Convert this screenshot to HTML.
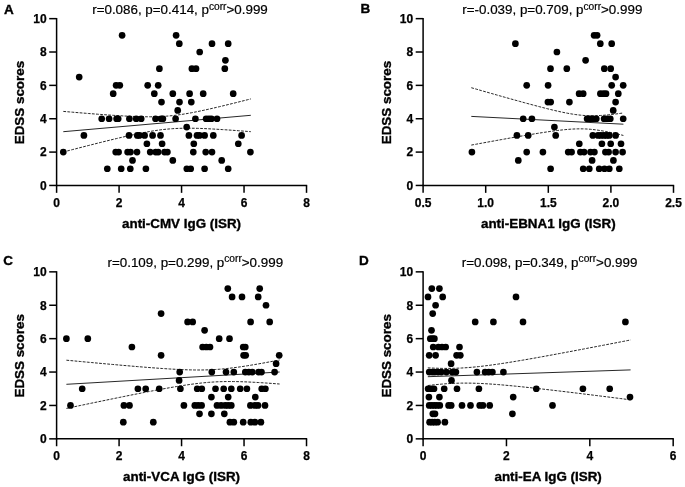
<!DOCTYPE html>
<html><head><meta charset="utf-8"><title>EDSS correlations</title>
<style>
html,body{margin:0;padding:0;background:#fff;}
svg{display:block;font-family:"Liberation Sans",Arial,Helvetica,sans-serif;}
.ax{stroke:#000;stroke-width:1.5;fill:none;}
.rg{stroke:#000;stroke-width:0.85;fill:none;}
.ci{stroke:#000;stroke-width:0.85;fill:none;stroke-dasharray:2.8 1.3;}
.tk{font-size:12px;font-weight:bold;fill:#000;stroke:#000;stroke-width:.25px;}
.al{font-size:13.4px;font-weight:bold;fill:#000;stroke:#000;stroke-width:.35px;}
.lt{font-size:13.5px;font-weight:bold;fill:#000;stroke:#000;stroke-width:.35px;}
.tt{font-size:13.38px;fill:#000;stroke:#000;stroke-width:.2px;}
.sp{font-size:10.2px;}
circle{fill:#000;}
</style></head><body>
<svg width="685" height="487" viewBox="0 0 685 487">
<rect width="685" height="487" fill="#fff"/>
<path d="M56.60 18.00V186.10" class="ax"/>
<path d="M55.95 185.45H307.17" class="ax"/>
<path d="M49.20 185.45H56.60" class="ax"/>
<text x="46.60" y="189.85" class="tk" text-anchor="end">0</text>
<path d="M49.20 152.09H56.60" class="ax"/>
<text x="46.60" y="156.49" class="tk" text-anchor="end">2</text>
<path d="M49.20 118.73H56.60" class="ax"/>
<text x="46.60" y="123.13" class="tk" text-anchor="end">4</text>
<path d="M49.20 85.37H56.60" class="ax"/>
<text x="46.60" y="89.77" class="tk" text-anchor="end">6</text>
<path d="M49.20 52.01H56.60" class="ax"/>
<text x="46.60" y="56.41" class="tk" text-anchor="end">8</text>
<path d="M49.20 18.65H56.60" class="ax"/>
<text x="46.60" y="23.05" class="tk" text-anchor="end">10</text>
<path d="M56.60 185.45V192.85" class="ax"/>
<text x="56.60" y="206.75" class="tk" text-anchor="middle">0</text>
<path d="M119.08 185.45V192.85" class="ax"/>
<text x="119.08" y="206.75" class="tk" text-anchor="middle">2</text>
<path d="M181.56 185.45V192.85" class="ax"/>
<text x="181.56" y="206.75" class="tk" text-anchor="middle">4</text>
<path d="M244.04 185.45V192.85" class="ax"/>
<text x="244.04" y="206.75" class="tk" text-anchor="middle">6</text>
<path d="M306.52 185.45V192.85" class="ax"/>
<text x="306.52" y="206.75" class="tk" text-anchor="middle">8</text>
<text x="4.1" y="14.1" class="lt">A</text>
<text x="92.2" y="14.35" class="tt">r=0.086, p=0.414, p<tspan dy="-4.4" class="sp">corr</tspan><tspan dy="4.4">&gt;0.999</tspan></text>
<text x="181.56" y="227.55" class="al" text-anchor="middle">anti-CMV IgG (ISR)</text>
<text transform="translate(24.40 102.55) rotate(-90)" class="al" text-anchor="middle">EDSS scores</text>
<path d="M63.30 131.70L250.80 115.30" class="rg"/>
<path d="M63.30 111.40L66.42 111.67L69.55 111.93L72.67 112.20L75.80 112.46L78.92 112.72L82.05 112.97L85.17 113.23L88.30 113.48L91.42 113.72L94.55 113.97L97.67 114.21L100.80 114.44L103.92 114.67L107.05 114.90L110.17 115.11L113.30 115.32L116.42 115.53L119.55 115.72L122.67 115.90L125.80 116.08L128.93 116.23L132.05 116.38L135.18 116.50L138.30 116.61L141.43 116.70L144.55 116.76L147.68 116.79L150.80 116.79L153.93 116.75L157.05 116.67L160.18 116.55L163.30 116.38L166.43 116.17L169.55 115.90L172.68 115.59L175.80 115.22L178.93 114.81L182.05 114.36L185.18 113.86L188.30 113.33L191.43 112.76L194.55 112.16L197.68 111.54L200.80 110.89L203.93 110.22L207.05 109.54L210.18 108.84L213.30 108.12L216.43 107.40L219.55 106.66L222.68 105.91L225.80 105.16L228.93 104.40L232.05 103.63L235.18 102.85L238.30 102.07L241.43 101.29L244.55 100.50L247.68 99.71L250.80 98.91" class="ci"/>
<path d="M63.30 152.00L66.42 151.19L69.55 150.37L72.67 149.56L75.80 148.76L78.92 147.95L82.05 147.15L85.17 146.35L88.30 145.55L91.42 144.76L94.55 143.97L97.67 143.18L100.80 142.40L103.92 141.62L107.05 140.85L110.17 140.09L113.30 139.33L116.42 138.58L119.55 137.84L122.67 137.11L125.80 136.39L128.93 135.69L132.05 135.00L135.18 134.32L138.30 133.67L141.43 133.04L144.55 132.43L147.68 131.85L150.80 131.31L153.93 130.80L157.05 130.33L160.18 129.90L163.30 129.52L166.43 129.19L169.55 128.91L172.68 128.68L175.80 128.50L178.93 128.36L182.05 128.27L185.18 128.22L188.30 128.21L191.43 128.23L194.55 128.28L197.68 128.35L200.80 128.45L203.93 128.58L207.05 128.71L210.18 128.87L213.30 129.04L216.43 129.22L219.55 129.41L222.68 129.61L225.80 129.81L228.93 130.03L232.05 130.25L235.18 130.48L238.30 130.71L241.43 130.95L244.55 131.19L247.68 131.44L250.80 131.69" class="ci"/>
<circle cx="122.1" cy="35.33" r="3.35"/>
<circle cx="176.1" cy="35.33" r="3.35"/>
<circle cx="179.3" cy="43.67" r="3.35"/>
<circle cx="212.0" cy="43.67" r="3.35"/>
<circle cx="228.2" cy="43.67" r="3.35"/>
<circle cx="199.7" cy="52.01" r="3.35"/>
<circle cx="225.4" cy="60.35" r="3.35"/>
<circle cx="159.4" cy="68.69" r="3.35"/>
<circle cx="191.9" cy="68.69" r="3.35"/>
<circle cx="196.0" cy="68.69" r="3.35"/>
<circle cx="224.8" cy="68.69" r="3.35"/>
<circle cx="79.2" cy="77.03" r="3.35"/>
<circle cx="116.1" cy="85.37" r="3.35"/>
<circle cx="119.8" cy="85.37" r="3.35"/>
<circle cx="147.7" cy="85.37" r="3.35"/>
<circle cx="158.2" cy="85.37" r="3.35"/>
<circle cx="113.2" cy="93.71" r="3.35"/>
<circle cx="154.3" cy="93.71" r="3.35"/>
<circle cx="172.8" cy="93.71" r="3.35"/>
<circle cx="189.6" cy="93.71" r="3.35"/>
<circle cx="203.2" cy="93.71" r="3.35"/>
<circle cx="233.2" cy="93.71" r="3.35"/>
<circle cx="161.5" cy="102.05" r="3.35"/>
<circle cx="179.5" cy="102.05" r="3.35"/>
<circle cx="191.3" cy="102.05" r="3.35"/>
<circle cx="177.7" cy="110.39" r="3.35"/>
<circle cx="101.7" cy="118.73" r="3.35"/>
<circle cx="109.1" cy="118.73" r="3.35"/>
<circle cx="116.6" cy="118.73" r="3.35"/>
<circle cx="118.2" cy="118.73" r="3.35"/>
<circle cx="129.4" cy="118.73" r="3.35"/>
<circle cx="136.2" cy="118.73" r="3.35"/>
<circle cx="141.2" cy="118.73" r="3.35"/>
<circle cx="155.5" cy="118.73" r="3.35"/>
<circle cx="161.1" cy="118.73" r="3.35"/>
<circle cx="162.9" cy="118.73" r="3.35"/>
<circle cx="175.6" cy="118.73" r="3.35"/>
<circle cx="195.4" cy="118.73" r="3.35"/>
<circle cx="206.1" cy="118.73" r="3.35"/>
<circle cx="208.9" cy="118.73" r="3.35"/>
<circle cx="211.4" cy="118.73" r="3.35"/>
<circle cx="217.0" cy="118.73" r="3.35"/>
<circle cx="186.7" cy="127.07" r="3.35"/>
<circle cx="83.9" cy="135.41" r="3.35"/>
<circle cx="129.0" cy="135.41" r="3.35"/>
<circle cx="137.3" cy="135.41" r="3.35"/>
<circle cx="139.3" cy="135.41" r="3.35"/>
<circle cx="144.6" cy="135.41" r="3.35"/>
<circle cx="152.6" cy="135.41" r="3.35"/>
<circle cx="160.5" cy="135.41" r="3.35"/>
<circle cx="188.9" cy="135.41" r="3.35"/>
<circle cx="197.0" cy="135.41" r="3.35"/>
<circle cx="199.5" cy="135.41" r="3.35"/>
<circle cx="204.6" cy="135.41" r="3.35"/>
<circle cx="213.3" cy="135.41" r="3.35"/>
<circle cx="241.6" cy="135.41" r="3.35"/>
<circle cx="146.9" cy="143.75" r="3.35"/>
<circle cx="162.1" cy="143.75" r="3.35"/>
<circle cx="193.8" cy="143.75" r="3.35"/>
<circle cx="238.3" cy="143.75" r="3.35"/>
<circle cx="63.3" cy="152.09" r="3.35"/>
<circle cx="115.7" cy="152.09" r="3.35"/>
<circle cx="118.6" cy="152.09" r="3.35"/>
<circle cx="127.6" cy="152.09" r="3.35"/>
<circle cx="130.5" cy="152.09" r="3.35"/>
<circle cx="137.0" cy="152.09" r="3.35"/>
<circle cx="150.2" cy="152.09" r="3.35"/>
<circle cx="155.7" cy="152.09" r="3.35"/>
<circle cx="158.2" cy="152.09" r="3.35"/>
<circle cx="164.6" cy="152.09" r="3.35"/>
<circle cx="167.4" cy="152.09" r="3.35"/>
<circle cx="193.3" cy="152.09" r="3.35"/>
<circle cx="205.7" cy="152.09" r="3.35"/>
<circle cx="212.0" cy="152.09" r="3.35"/>
<circle cx="250.4" cy="152.09" r="3.35"/>
<circle cx="132.5" cy="160.43" r="3.35"/>
<circle cx="172.8" cy="160.43" r="3.35"/>
<circle cx="221.7" cy="160.43" r="3.35"/>
<circle cx="107.3" cy="168.77" r="3.35"/>
<circle cx="121.2" cy="168.77" r="3.35"/>
<circle cx="130.3" cy="168.77" r="3.35"/>
<circle cx="145.9" cy="168.77" r="3.35"/>
<circle cx="186.8" cy="168.77" r="3.35"/>
<circle cx="190.7" cy="168.77" r="3.35"/>
<circle cx="204.6" cy="168.77" r="3.35"/>
<circle cx="228.2" cy="168.77" r="3.35"/>
<path d="M423.10 18.00V186.10" class="ax"/>
<path d="M422.45 185.45H674.15" class="ax"/>
<path d="M415.70 185.45H423.10" class="ax"/>
<text x="413.10" y="189.85" class="tk" text-anchor="end">0</text>
<path d="M415.70 152.09H423.10" class="ax"/>
<text x="413.10" y="156.49" class="tk" text-anchor="end">2</text>
<path d="M415.70 118.73H423.10" class="ax"/>
<text x="413.10" y="123.13" class="tk" text-anchor="end">4</text>
<path d="M415.70 85.37H423.10" class="ax"/>
<text x="413.10" y="89.77" class="tk" text-anchor="end">6</text>
<path d="M415.70 52.01H423.10" class="ax"/>
<text x="413.10" y="56.41" class="tk" text-anchor="end">8</text>
<path d="M415.70 18.65H423.10" class="ax"/>
<text x="413.10" y="23.05" class="tk" text-anchor="end">10</text>
<path d="M423.10 185.45V192.85" class="ax"/>
<text x="423.10" y="206.75" class="tk" text-anchor="middle">0.5</text>
<path d="M485.70 185.45V192.85" class="ax"/>
<text x="485.70" y="206.75" class="tk" text-anchor="middle">1.0</text>
<path d="M548.30 185.45V192.85" class="ax"/>
<text x="548.30" y="206.75" class="tk" text-anchor="middle">1.5</text>
<path d="M610.90 185.45V192.85" class="ax"/>
<text x="610.90" y="206.75" class="tk" text-anchor="middle">2.0</text>
<path d="M673.50 185.45V192.85" class="ax"/>
<text x="673.50" y="206.75" class="tk" text-anchor="middle">2.5</text>
<text x="360.4" y="12.8" class="lt">B</text>
<text x="462.3" y="14.35" class="tt">r=-0.039, p=0.709, p<tspan dy="-4.4" class="sp">corr</tspan><tspan dy="4.4">&gt;0.999</tspan></text>
<text x="548.30" y="227.55" class="al" text-anchor="middle">anti-EBNA1 IgG (ISR)</text>
<text transform="translate(391.20 102.55) rotate(-90)" class="al" text-anchor="middle">EDSS scores</text>
<path d="M471.30 116.40L623.40 124.20" class="rg"/>
<path d="M471.30 87.71L473.84 88.44L476.37 89.16L478.91 89.89L481.44 90.62L483.98 91.34L486.51 92.07L489.05 92.79L491.58 93.51L494.12 94.23L496.65 94.95L499.19 95.67L501.72 96.38L504.25 97.10L506.79 97.81L509.32 98.52L511.86 99.23L514.39 99.93L516.93 100.64L519.47 101.34L522.00 102.03L524.53 102.73L527.07 103.42L529.61 104.10L532.14 104.78L534.67 105.46L537.21 106.13L539.75 106.79L542.28 107.45L544.81 108.09L547.35 108.73L549.88 109.36L552.42 109.97L554.96 110.57L557.49 111.15L560.02 111.72L562.56 112.26L565.10 112.78L567.63 113.26L570.16 113.72L572.70 114.14L575.24 114.52L577.77 114.85L580.30 115.14L582.84 115.37L585.38 115.55L587.91 115.67L590.44 115.73L592.98 115.74L595.51 115.70L598.05 115.61L600.59 115.47L603.12 115.30L605.65 115.09L608.19 114.85L610.73 114.59L613.26 114.30L615.79 113.99L618.33 113.66L620.87 113.31L623.40 112.95" class="ci"/>
<path d="M471.30 145.09L473.84 144.62L476.37 144.16L478.91 143.69L481.44 143.22L483.98 142.76L486.51 142.29L489.05 141.83L491.58 141.37L494.12 140.91L496.65 140.45L499.19 139.99L501.72 139.54L504.25 139.08L506.79 138.63L509.32 138.18L511.86 137.73L514.39 137.29L516.93 136.84L519.47 136.40L522.00 135.97L524.53 135.53L527.07 135.10L529.61 134.68L532.14 134.26L534.67 133.84L537.21 133.43L539.75 133.03L542.28 132.63L544.81 132.25L547.35 131.87L549.88 131.50L552.42 131.15L554.96 130.81L557.49 130.49L560.02 130.18L562.56 129.90L565.10 129.64L567.63 129.42L570.16 129.22L572.70 129.06L575.24 128.94L577.77 128.87L580.30 128.84L582.84 128.87L585.38 128.95L587.91 129.09L590.44 129.29L592.98 129.54L595.51 129.84L598.05 130.19L600.59 130.59L603.12 131.02L605.65 131.49L608.19 131.99L610.73 132.51L613.26 133.06L615.79 133.63L618.33 134.22L620.87 134.83L623.40 135.45" class="ci"/>
<circle cx="594.1" cy="35.33" r="3.35"/>
<circle cx="597.1" cy="35.33" r="3.35"/>
<circle cx="515.4" cy="43.67" r="3.35"/>
<circle cx="600.3" cy="43.67" r="3.35"/>
<circle cx="611.7" cy="43.67" r="3.35"/>
<circle cx="556.9" cy="52.01" r="3.35"/>
<circle cx="585.6" cy="60.35" r="3.35"/>
<circle cx="550.5" cy="68.69" r="3.35"/>
<circle cx="566.8" cy="68.69" r="3.35"/>
<circle cx="604.3" cy="68.69" r="3.35"/>
<circle cx="610.7" cy="68.69" r="3.35"/>
<circle cx="615.6" cy="77.03" r="3.35"/>
<circle cx="526.7" cy="85.37" r="3.35"/>
<circle cx="548.1" cy="85.37" r="3.35"/>
<circle cx="611.7" cy="85.37" r="3.35"/>
<circle cx="623.2" cy="85.37" r="3.35"/>
<circle cx="579.1" cy="93.71" r="3.35"/>
<circle cx="583.2" cy="93.71" r="3.35"/>
<circle cx="600.4" cy="93.71" r="3.35"/>
<circle cx="603.5" cy="93.71" r="3.35"/>
<circle cx="606.0" cy="93.71" r="3.35"/>
<circle cx="618.3" cy="93.71" r="3.35"/>
<circle cx="547.9" cy="102.05" r="3.35"/>
<circle cx="550.7" cy="102.05" r="3.35"/>
<circle cx="569.4" cy="102.05" r="3.35"/>
<circle cx="615.6" cy="102.05" r="3.35"/>
<circle cx="613.2" cy="110.39" r="3.35"/>
<circle cx="523.2" cy="118.73" r="3.35"/>
<circle cx="531.9" cy="118.73" r="3.35"/>
<circle cx="587.1" cy="118.73" r="3.35"/>
<circle cx="590.2" cy="118.73" r="3.35"/>
<circle cx="593.2" cy="118.73" r="3.35"/>
<circle cx="596.3" cy="118.73" r="3.35"/>
<circle cx="604.1" cy="118.73" r="3.35"/>
<circle cx="607.2" cy="118.73" r="3.35"/>
<circle cx="610.3" cy="118.73" r="3.35"/>
<circle cx="623.2" cy="118.73" r="3.35"/>
<circle cx="554.4" cy="127.07" r="3.35"/>
<circle cx="516.9" cy="135.41" r="3.35"/>
<circle cx="528.2" cy="135.41" r="3.35"/>
<circle cx="555.7" cy="135.41" r="3.35"/>
<circle cx="592.8" cy="135.41" r="3.35"/>
<circle cx="598.0" cy="135.41" r="3.35"/>
<circle cx="600.8" cy="135.41" r="3.35"/>
<circle cx="603.9" cy="135.41" r="3.35"/>
<circle cx="606.6" cy="135.41" r="3.35"/>
<circle cx="609.3" cy="135.41" r="3.35"/>
<circle cx="615.6" cy="135.41" r="3.35"/>
<circle cx="579.3" cy="143.75" r="3.35"/>
<circle cx="601.9" cy="143.75" r="3.35"/>
<circle cx="610.7" cy="143.75" r="3.35"/>
<circle cx="621.0" cy="143.75" r="3.35"/>
<circle cx="471.9" cy="152.09" r="3.35"/>
<circle cx="526.7" cy="152.09" r="3.35"/>
<circle cx="542.9" cy="152.09" r="3.35"/>
<circle cx="568.2" cy="152.09" r="3.35"/>
<circle cx="571.6" cy="152.09" r="3.35"/>
<circle cx="580.4" cy="152.09" r="3.35"/>
<circle cx="584.1" cy="152.09" r="3.35"/>
<circle cx="590.5" cy="152.09" r="3.35"/>
<circle cx="594.4" cy="152.09" r="3.35"/>
<circle cx="605.4" cy="152.09" r="3.35"/>
<circle cx="608.6" cy="152.09" r="3.35"/>
<circle cx="615.6" cy="152.09" r="3.35"/>
<circle cx="622.6" cy="152.09" r="3.35"/>
<circle cx="518.3" cy="160.43" r="3.35"/>
<circle cx="592.1" cy="160.43" r="3.35"/>
<circle cx="613.4" cy="160.43" r="3.35"/>
<circle cx="550.6" cy="168.77" r="3.35"/>
<circle cx="583.2" cy="168.77" r="3.35"/>
<circle cx="589.3" cy="168.77" r="3.35"/>
<circle cx="599.2" cy="168.77" r="3.35"/>
<circle cx="604.5" cy="168.77" r="3.35"/>
<circle cx="609.3" cy="168.77" r="3.35"/>
<circle cx="619.3" cy="168.77" r="3.35"/>
<path d="M56.60 271.20V439.50" class="ax"/>
<path d="M55.95 438.85H307.17" class="ax"/>
<path d="M49.20 438.85H56.60" class="ax"/>
<text x="46.60" y="443.25" class="tk" text-anchor="end">0</text>
<path d="M49.20 405.45H56.60" class="ax"/>
<text x="46.60" y="409.85" class="tk" text-anchor="end">2</text>
<path d="M49.20 372.05H56.60" class="ax"/>
<text x="46.60" y="376.45" class="tk" text-anchor="end">4</text>
<path d="M49.20 338.65H56.60" class="ax"/>
<text x="46.60" y="343.05" class="tk" text-anchor="end">6</text>
<path d="M49.20 305.25H56.60" class="ax"/>
<text x="46.60" y="309.65" class="tk" text-anchor="end">8</text>
<path d="M49.20 271.85H56.60" class="ax"/>
<text x="46.60" y="276.25" class="tk" text-anchor="end">10</text>
<path d="M56.60 438.85V446.25" class="ax"/>
<text x="56.60" y="460.15" class="tk" text-anchor="middle">0</text>
<path d="M119.08 438.85V446.25" class="ax"/>
<text x="119.08" y="460.15" class="tk" text-anchor="middle">2</text>
<path d="M181.56 438.85V446.25" class="ax"/>
<text x="181.56" y="460.15" class="tk" text-anchor="middle">4</text>
<path d="M244.04 438.85V446.25" class="ax"/>
<text x="244.04" y="460.15" class="tk" text-anchor="middle">6</text>
<path d="M306.52 438.85V446.25" class="ax"/>
<text x="306.52" y="460.15" class="tk" text-anchor="middle">8</text>
<text x="3.2" y="265.2" class="lt">C</text>
<text x="107.5" y="266.80" class="tt">r=0.109, p=0.299, p<tspan dy="-4.4" class="sp">corr</tspan><tspan dy="4.4">&gt;0.999</tspan></text>
<text x="181.56" y="480.95" class="al" text-anchor="middle">anti-VCA IgG (ISR)</text>
<text transform="translate(24.40 355.85) rotate(-90)" class="al" text-anchor="middle">EDSS scores</text>
<path d="M66.40 384.30L279.60 372.00" class="rg"/>
<path d="M66.40 360.19L69.95 360.53L73.51 360.86L77.06 361.20L80.61 361.53L84.17 361.86L87.72 362.19L91.27 362.52L94.83 362.85L98.38 363.17L101.93 363.50L105.49 363.82L109.04 364.14L112.59 364.46L116.15 364.77L119.70 365.09L123.25 365.40L126.81 365.70L130.36 366.01L133.91 366.31L137.47 366.60L141.02 366.89L144.57 367.18L148.13 367.46L151.68 367.73L155.23 368.00L158.79 368.25L162.34 368.50L165.89 368.73L169.45 368.96L173.00 369.16L176.55 369.36L180.11 369.53L183.66 369.68L187.21 369.80L190.77 369.90L194.32 369.97L197.87 370.00L201.43 369.99L204.98 369.93L208.53 369.83L212.09 369.69L215.64 369.49L219.19 369.24L222.75 368.94L226.30 368.59L229.85 368.20L233.41 367.77L236.96 367.31L240.51 366.81L244.07 366.28L247.62 365.72L251.17 365.14L254.73 364.55L258.28 363.93L261.83 363.30L265.39 362.66L268.94 362.01L272.49 361.34L276.05 360.67L279.60 359.99" class="ci"/>
<path d="M66.40 408.41L69.95 407.66L73.51 406.92L77.06 406.17L80.61 405.43L84.17 404.69L87.72 403.95L91.27 403.21L94.83 402.47L98.38 401.74L101.93 401.00L105.49 400.27L109.04 399.54L112.59 398.81L116.15 398.09L119.70 397.36L123.25 396.64L126.81 395.93L130.36 395.21L133.91 394.50L137.47 393.80L141.02 393.10L144.57 392.40L148.13 391.71L151.68 391.03L155.23 390.35L158.79 389.69L162.34 389.03L165.89 388.39L169.45 387.75L173.00 387.14L176.55 386.53L180.11 385.95L183.66 385.39L187.21 384.86L190.77 384.35L194.32 383.87L197.87 383.43L201.43 383.03L204.98 382.68L208.53 382.37L212.09 382.10L215.64 381.89L219.19 381.73L222.75 381.62L226.30 381.56L229.85 381.54L233.41 381.56L236.96 381.61L240.51 381.70L244.07 381.82L247.62 381.97L251.17 382.14L254.73 382.32L258.28 382.53L261.83 382.75L265.39 382.98L268.94 383.22L272.49 383.48L276.05 383.74L279.60 384.01" class="ci"/>
<circle cx="227.8" cy="288.55" r="3.35"/>
<circle cx="259.7" cy="288.55" r="3.35"/>
<circle cx="232.1" cy="296.90" r="3.35"/>
<circle cx="242.0" cy="296.90" r="3.35"/>
<circle cx="258.2" cy="296.90" r="3.35"/>
<circle cx="266.0" cy="305.25" r="3.35"/>
<circle cx="161.1" cy="313.60" r="3.35"/>
<circle cx="187.6" cy="321.95" r="3.35"/>
<circle cx="192.7" cy="321.95" r="3.35"/>
<circle cx="250.6" cy="321.95" r="3.35"/>
<circle cx="269.7" cy="321.95" r="3.35"/>
<circle cx="204.6" cy="330.30" r="3.35"/>
<circle cx="66.4" cy="338.65" r="3.35"/>
<circle cx="87.8" cy="338.65" r="3.35"/>
<circle cx="219.2" cy="338.65" r="3.35"/>
<circle cx="229.5" cy="338.65" r="3.35"/>
<circle cx="131.9" cy="347.00" r="3.35"/>
<circle cx="202.6" cy="347.00" r="3.35"/>
<circle cx="206.3" cy="347.00" r="3.35"/>
<circle cx="210.0" cy="347.00" r="3.35"/>
<circle cx="243.2" cy="347.00" r="3.35"/>
<circle cx="245.3" cy="347.00" r="3.35"/>
<circle cx="161.1" cy="355.35" r="3.35"/>
<circle cx="243.6" cy="355.35" r="3.35"/>
<circle cx="245.7" cy="355.35" r="3.35"/>
<circle cx="279.2" cy="355.35" r="3.35"/>
<circle cx="276.1" cy="363.70" r="3.35"/>
<circle cx="179.7" cy="372.05" r="3.35"/>
<circle cx="211.8" cy="372.05" r="3.35"/>
<circle cx="226.0" cy="372.05" r="3.35"/>
<circle cx="233.8" cy="372.05" r="3.35"/>
<circle cx="245.3" cy="372.05" r="3.35"/>
<circle cx="248.8" cy="372.05" r="3.35"/>
<circle cx="252.3" cy="372.05" r="3.35"/>
<circle cx="258.6" cy="372.05" r="3.35"/>
<circle cx="261.5" cy="372.05" r="3.35"/>
<circle cx="274.6" cy="372.05" r="3.35"/>
<circle cx="179.1" cy="380.40" r="3.35"/>
<circle cx="82.2" cy="388.75" r="3.35"/>
<circle cx="137.9" cy="388.75" r="3.35"/>
<circle cx="145.7" cy="388.75" r="3.35"/>
<circle cx="159.2" cy="388.75" r="3.35"/>
<circle cx="180.4" cy="388.75" r="3.35"/>
<circle cx="197.2" cy="388.75" r="3.35"/>
<circle cx="201.8" cy="388.75" r="3.35"/>
<circle cx="215.5" cy="388.75" r="3.35"/>
<circle cx="223.7" cy="388.75" r="3.35"/>
<circle cx="231.3" cy="388.75" r="3.35"/>
<circle cx="240.2" cy="388.75" r="3.35"/>
<circle cx="246.9" cy="388.75" r="3.35"/>
<circle cx="261.7" cy="388.75" r="3.35"/>
<circle cx="265.4" cy="388.75" r="3.35"/>
<circle cx="211.4" cy="397.10" r="3.35"/>
<circle cx="228.2" cy="397.10" r="3.35"/>
<circle cx="255.3" cy="397.10" r="3.35"/>
<circle cx="70.5" cy="405.45" r="3.35"/>
<circle cx="123.9" cy="405.45" r="3.35"/>
<circle cx="129.5" cy="405.45" r="3.35"/>
<circle cx="183.9" cy="405.45" r="3.35"/>
<circle cx="194.8" cy="405.45" r="3.35"/>
<circle cx="198.1" cy="405.45" r="3.35"/>
<circle cx="201.6" cy="405.45" r="3.35"/>
<circle cx="217.0" cy="405.45" r="3.35"/>
<circle cx="221.1" cy="405.45" r="3.35"/>
<circle cx="225.2" cy="405.45" r="3.35"/>
<circle cx="228.2" cy="405.45" r="3.35"/>
<circle cx="231.3" cy="405.45" r="3.35"/>
<circle cx="250.4" cy="405.45" r="3.35"/>
<circle cx="254.9" cy="405.45" r="3.35"/>
<circle cx="258.0" cy="405.45" r="3.35"/>
<circle cx="265.0" cy="405.45" r="3.35"/>
<circle cx="199.5" cy="413.80" r="3.35"/>
<circle cx="211.4" cy="413.80" r="3.35"/>
<circle cx="224.3" cy="413.80" r="3.35"/>
<circle cx="123.3" cy="422.15" r="3.35"/>
<circle cx="153.3" cy="422.15" r="3.35"/>
<circle cx="229.9" cy="422.15" r="3.35"/>
<circle cx="233.8" cy="422.15" r="3.35"/>
<circle cx="243.2" cy="422.15" r="3.35"/>
<circle cx="250.8" cy="422.15" r="3.35"/>
<circle cx="254.9" cy="422.15" r="3.35"/>
<circle cx="260.9" cy="422.15" r="3.35"/>
<path d="M423.10 271.20V439.50" class="ax"/>
<path d="M422.45 438.85H673.83" class="ax"/>
<path d="M415.70 438.85H423.10" class="ax"/>
<text x="413.10" y="443.25" class="tk" text-anchor="end">0</text>
<path d="M415.70 405.45H423.10" class="ax"/>
<text x="413.10" y="409.85" class="tk" text-anchor="end">2</text>
<path d="M415.70 372.05H423.10" class="ax"/>
<text x="413.10" y="376.45" class="tk" text-anchor="end">4</text>
<path d="M415.70 338.65H423.10" class="ax"/>
<text x="413.10" y="343.05" class="tk" text-anchor="end">6</text>
<path d="M415.70 305.25H423.10" class="ax"/>
<text x="413.10" y="309.65" class="tk" text-anchor="end">8</text>
<path d="M415.70 271.85H423.10" class="ax"/>
<text x="413.10" y="276.25" class="tk" text-anchor="end">10</text>
<path d="M423.10 438.85V446.25" class="ax"/>
<text x="423.10" y="460.15" class="tk" text-anchor="middle">0</text>
<path d="M506.46 438.85V446.25" class="ax"/>
<text x="506.46" y="460.15" class="tk" text-anchor="middle">2</text>
<path d="M589.82 438.85V446.25" class="ax"/>
<text x="589.82" y="460.15" class="tk" text-anchor="middle">4</text>
<path d="M673.18 438.85V446.25" class="ax"/>
<text x="673.18" y="460.15" class="tk" text-anchor="middle">6</text>
<text x="359.1" y="265.3" class="lt">D</text>
<text x="461.8" y="266.80" class="tt">r=0.098, p=0.349, p<tspan dy="-4.4" class="sp">corr</tspan><tspan dy="4.4">&gt;0.999</tspan></text>
<text x="548.14" y="480.95" class="al" text-anchor="middle">anti-EA IgG (ISR)</text>
<text transform="translate(391.20 355.85) rotate(-90)" class="al" text-anchor="middle">EDSS scores</text>
<path d="M427.80 376.70L630.60 369.90" class="rg"/>
<path d="M427.80 367.86L431.18 368.03L434.56 368.17L437.94 368.28L441.32 368.36L444.70 368.40L448.08 368.41L451.46 368.37L454.84 368.29L458.22 368.17L461.60 368.01L464.98 367.81L468.36 367.56L471.74 367.28L475.12 366.97L478.50 366.62L481.88 366.24L485.26 365.84L488.64 365.41L492.02 364.95L495.40 364.48L498.78 363.99L502.16 363.48L505.54 362.96L508.92 362.43L512.30 361.88L515.68 361.33L519.06 360.76L522.44 360.19L525.82 359.61L529.20 359.02L532.58 358.43L535.96 357.83L539.34 357.22L542.72 356.61L546.10 356.00L549.48 355.38L552.86 354.76L556.24 354.14L559.62 353.52L563.00 352.89L566.38 352.25L569.76 351.62L573.14 350.99L576.52 350.35L579.90 349.71L583.28 349.07L586.66 348.42L590.04 347.78L593.42 347.13L596.80 346.49L600.18 345.84L603.56 345.19L606.94 344.54L610.32 343.89L613.70 343.24L617.08 342.58L620.46 341.93L623.84 341.27L627.22 340.62L630.60 339.96" class="ci"/>
<path d="M427.80 385.54L431.18 385.14L434.56 384.77L437.94 384.44L441.32 384.13L444.70 383.86L448.08 383.63L451.46 383.44L454.84 383.30L458.22 383.19L461.60 383.12L464.98 383.10L468.36 383.12L471.74 383.17L475.12 383.26L478.50 383.38L481.88 383.53L485.26 383.71L488.64 383.91L492.02 384.14L495.40 384.38L498.78 384.65L502.16 384.93L505.54 385.22L508.92 385.53L512.30 385.85L515.68 386.18L519.06 386.52L522.44 386.86L525.82 387.22L529.20 387.58L532.58 387.95L535.96 388.32L539.34 388.70L542.72 389.08L546.10 389.47L549.48 389.86L552.86 390.25L556.24 390.65L559.62 391.04L563.00 391.45L566.38 391.85L569.76 392.26L573.14 392.67L576.52 393.08L579.90 393.49L583.28 393.91L586.66 394.32L590.04 394.74L593.42 395.16L596.80 395.58L600.18 396.00L603.56 396.42L606.94 396.85L610.32 397.27L613.70 397.70L617.08 398.12L620.46 398.55L623.84 398.98L627.22 399.41L630.60 399.84" class="ci"/>
<circle cx="431.8" cy="288.55" r="3.35"/>
<circle cx="439.4" cy="288.55" r="3.35"/>
<circle cx="428.0" cy="296.90" r="3.35"/>
<circle cx="442.7" cy="296.90" r="3.35"/>
<circle cx="516.0" cy="296.90" r="3.35"/>
<circle cx="435.6" cy="305.25" r="3.35"/>
<circle cx="432.7" cy="313.60" r="3.35"/>
<circle cx="475.2" cy="321.95" r="3.35"/>
<circle cx="493.4" cy="321.95" r="3.35"/>
<circle cx="523.0" cy="321.95" r="3.35"/>
<circle cx="625.4" cy="321.95" r="3.35"/>
<circle cx="431.5" cy="330.30" r="3.35"/>
<circle cx="430.3" cy="338.65" r="3.35"/>
<circle cx="432.5" cy="338.65" r="3.35"/>
<circle cx="434.4" cy="338.65" r="3.35"/>
<circle cx="433.2" cy="347.00" r="3.35"/>
<circle cx="438.4" cy="347.00" r="3.35"/>
<circle cx="442.0" cy="347.00" r="3.35"/>
<circle cx="445.7" cy="347.00" r="3.35"/>
<circle cx="459.5" cy="347.00" r="3.35"/>
<circle cx="429.2" cy="355.35" r="3.35"/>
<circle cx="435.6" cy="355.35" r="3.35"/>
<circle cx="456.6" cy="355.35" r="3.35"/>
<circle cx="460.3" cy="355.35" r="3.35"/>
<circle cx="451.1" cy="363.70" r="3.35"/>
<circle cx="429.2" cy="372.05" r="3.35"/>
<circle cx="432.2" cy="372.05" r="3.35"/>
<circle cx="434.7" cy="372.05" r="3.35"/>
<circle cx="438.1" cy="372.05" r="3.35"/>
<circle cx="441.3" cy="372.05" r="3.35"/>
<circle cx="446.4" cy="372.05" r="3.35"/>
<circle cx="452.2" cy="372.05" r="3.35"/>
<circle cx="455.9" cy="372.05" r="3.35"/>
<circle cx="476.9" cy="372.05" r="3.35"/>
<circle cx="485.1" cy="372.05" r="3.35"/>
<circle cx="488.7" cy="372.05" r="3.35"/>
<circle cx="492.4" cy="372.05" r="3.35"/>
<circle cx="503.4" cy="372.05" r="3.35"/>
<circle cx="451.5" cy="380.40" r="3.35"/>
<circle cx="428.1" cy="388.75" r="3.35"/>
<circle cx="431.1" cy="388.75" r="3.35"/>
<circle cx="434.0" cy="388.75" r="3.35"/>
<circle cx="444.2" cy="388.75" r="3.35"/>
<circle cx="457.0" cy="388.75" r="3.35"/>
<circle cx="478.9" cy="388.75" r="3.35"/>
<circle cx="536.3" cy="388.75" r="3.35"/>
<circle cx="582.9" cy="388.75" r="3.35"/>
<circle cx="609.7" cy="388.75" r="3.35"/>
<circle cx="428.9" cy="397.10" r="3.35"/>
<circle cx="439.4" cy="397.10" r="3.35"/>
<circle cx="513.2" cy="397.10" r="3.35"/>
<circle cx="630.0" cy="397.10" r="3.35"/>
<circle cx="429.2" cy="405.45" r="3.35"/>
<circle cx="431.8" cy="405.45" r="3.35"/>
<circle cx="434.4" cy="405.45" r="3.35"/>
<circle cx="436.9" cy="405.45" r="3.35"/>
<circle cx="439.8" cy="405.45" r="3.35"/>
<circle cx="448.6" cy="405.45" r="3.35"/>
<circle cx="451.2" cy="405.45" r="3.35"/>
<circle cx="462.0" cy="405.45" r="3.35"/>
<circle cx="470.5" cy="405.45" r="3.35"/>
<circle cx="479.7" cy="405.45" r="3.35"/>
<circle cx="482.9" cy="405.45" r="3.35"/>
<circle cx="489.7" cy="405.45" r="3.35"/>
<circle cx="552.5" cy="405.45" r="3.35"/>
<circle cx="432.8" cy="413.80" r="3.35"/>
<circle cx="435.0" cy="413.80" r="3.35"/>
<circle cx="512.4" cy="413.80" r="3.35"/>
<circle cx="429.6" cy="422.15" r="3.35"/>
<circle cx="432.2" cy="422.15" r="3.35"/>
<circle cx="434.7" cy="422.15" r="3.35"/>
<circle cx="437.6" cy="422.15" r="3.35"/>
<circle cx="444.9" cy="422.15" r="3.35"/>
</svg>
</body></html>
